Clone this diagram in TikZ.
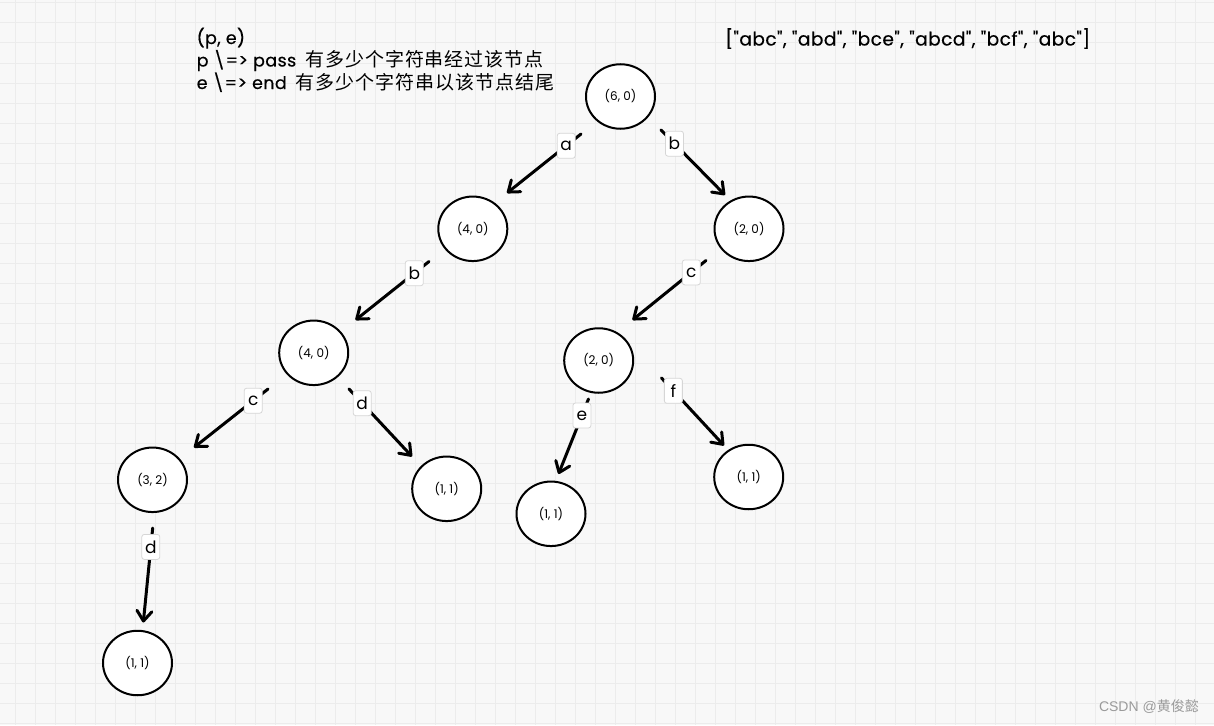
\documentclass[tikz,border=0pt]{standalone}
\usepackage{fontspec}
\setmainfont{Poppins}
\newfontfamily\hdrfont[Ligatures=TeXOff,LetterSpace=2.3,FakeBold=0.4]{Poppins}
\newfontfamily\cjk[LetterSpace=5]{Noto Sans CJK SC}
\newfontfamily\cjkwm{Noto Sans CJK SC}
\newfontfamily\wm{Liberation Sans}
\usetikzlibrary{shapes.geometric,arrows.meta}
\definecolor{bgc}{HTML}{F8F8F8}
\definecolor{gridc}{HTML}{ECECEC}
\definecolor{lblborder}{HTML}{D6D6D6}
\definecolor{wmc}{HTML}{9A9A9A}
\tikzset{
  st/.style={ellipse, draw=black, line width=2pt, fill=white, minimum width=69pt, minimum height=64.5pt, inner sep=0pt, font=\fontsize{12}{14}\selectfont},
  lbl/.style={draw=lblborder, line width=0.8pt, fill=white, rounded corners=2.5pt, minimum width=18pt, minimum height=25pt, inner sep=0pt, font=\fontsize{17}{19}\selectfont},
  arr/.style={line width=3pt, line cap=round, -{Straight Barb[length=10pt,width=15pt,round]}},
  hdr/.style={anchor=base west, inner sep=0pt, font=\fontsize{17.5}{19}\hdrfont}
}
\begin{document}
\begin{tikzpicture}[x=1pt,y=-1pt]
\fill[bgc] (0,0) rectangle (1214,725);
\useasboundingbox (0,0) rectangle (1214,725);
\foreach \i in {0,...,59} { \draw[gridc, line width=1pt] (15+20*\i,0) -- (15+20*\i,725); }
\foreach \j in {0,...,36} { \draw[gridc, line width=1pt] (0,3+20*\j) -- (1214,3+20*\j); }

% header text
\node[hdr] (t1) at (196.5,44) {(p, e)};
\node[hdr] (t2) at (196.5,66.5) {p \textbackslash=> pass\hspace{4pt} {\fontsize{19}{21}\cjk 有多少个字符串经过该节点}};
\node[hdr] (t3) at (196.5,89) {e \textbackslash=> end\hspace{4pt} {\fontsize{19}{21}\cjk 有多少个字符串以该节点结尾}};
\node[hdr, font=\fontsize{18.6}{20}\hdrfont] (t4) at (725,45.5) {["abc", "abd", "bce", "abcd", "bcf", "abc"]};

% nodes
\node[st] (n0) at (620.5,96.5) {(6, 0)};
\node[st] (n1) at (472.8,228.8) {(4, 0)};
\node[st] (n2) at (749,228.8) {(2, 0)};
\node[st] (n3) at (313.7,352.8) {(4, 0)};
\node[st] (n4) at (598.7,360.5) {(2, 0)};
\node[st] (n5) at (152.5,479.8) {(3, 2)};
\node[st] (n6) at (446.7,488.8) {(1, 1)};
\node[st] (n7) at (551,513.8) {(1, 1)};
\node[st] (n8) at (748.7,477) {(1, 1)};
\node[st] (n9) at (137.5,663) {(1, 1)};

% connector end points
\coordinate (e01s) at (581,134);   \coordinate (e01e) at (507,193);
\coordinate (e02s) at (661,130);   \coordinate (e02e) at (725,195);
\coordinate (e13s) at (429,261.5); \coordinate (e13e) at (355.5,320);
\coordinate (e24s) at (706,260.5); \coordinate (e24e) at (632.5,320);
\coordinate (e35s) at (268,389);   \coordinate (e35e) at (194,447.5);
\coordinate (e36s) at (349,389);   \coordinate (e36e) at (412,456.5);
\coordinate (e47s) at (588.5,399); \coordinate (e47e) at (558.5,474);
\coordinate (e48s) at (661.5,378); \coordinate (e48e) at (724,445.5);
\coordinate (e59s) at (152.7,528); \coordinate (e59e) at (143.3,622.5);

\draw[arr] (e01s) -- node[lbl,pos=0.2] (l01) {a} (e01e);
\draw[arr] (e02s) -- node[lbl,pos=0.21] (l02) {b} (e02e);
\draw[arr] (e13s) -- node[lbl,pos=0.2] (l13) {b} (e13e);
\draw[arr] (e24s) -- node[lbl,pos=0.2] (l24) {c} (e24e);
\draw[arr] (e35s) -- node[lbl,pos=0.2] (l35) {c} (e35e);
\draw[arr] (e36s) -- node[lbl,pos=0.21] (l36) {d} (e36e);
\draw[arr] (e47s) -- node[lbl,pos=0.22] (l47) {e} (e47e);
\draw[arr] (e48s) -- node[lbl,pos=0.19] (l48) {f} (e48e);
\draw[arr] (e59s) -- node[lbl,pos=0.2] (l59) {d} (e59e);

% watermark
\node[anchor=east, inner sep=0pt, text=wmc, font=\fontsize{14}{16}\selectfont] (wm) at (1199,707) {\wm CSDN @{\cjkwm 黄俊懿}};
\end{tikzpicture}
\end{document}
